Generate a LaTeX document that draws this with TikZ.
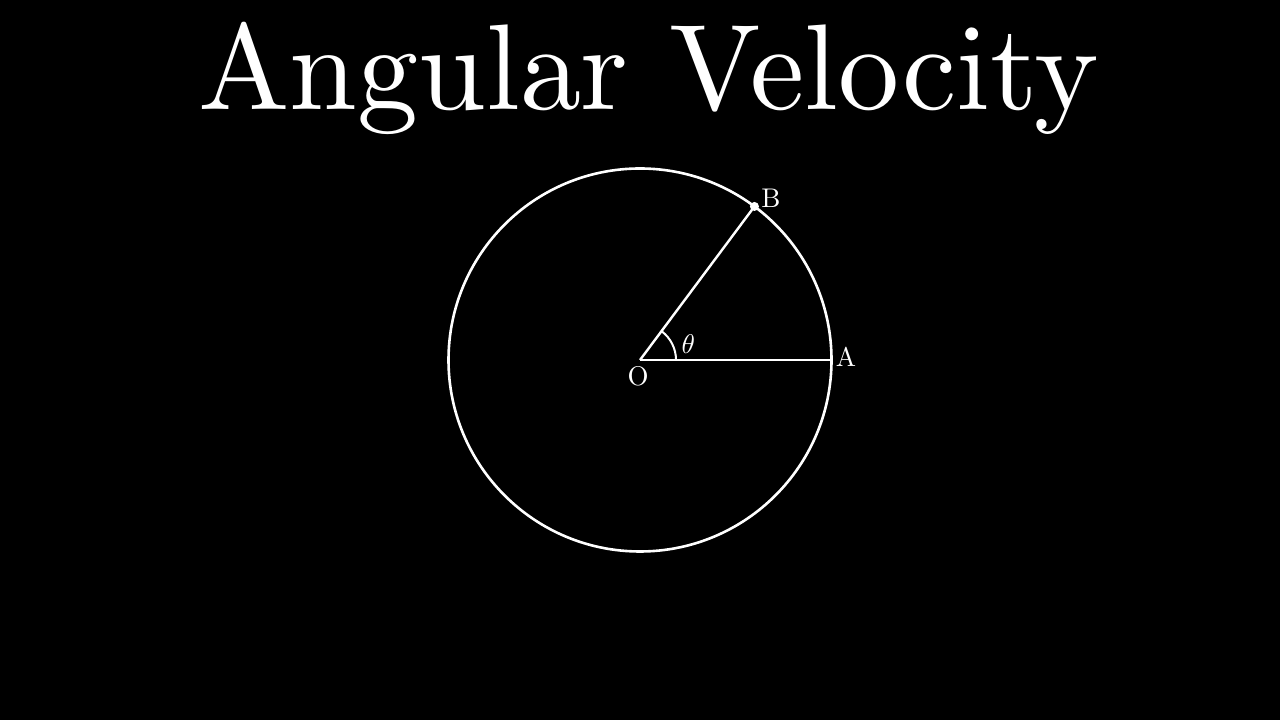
\documentclass[tikz,border=0pt]{standalone}
\usetikzlibrary{calc}
\font\titlefnt=cmr10 at 122pt
\font\lblfnt=cmr10 at 27pt
\font\thfnt=cmmi10 at 27pt
\begin{document}
\begin{tikzpicture}[x=1pt,y=1pt,
  lbl/.style={text=white,font=\lblfnt,inner sep=0pt},
  ln/.style={draw=white,line width=2.4pt}]
\fill[black] (0,0) rectangle (1280,720);
\useasboundingbox (0,0) rectangle (1280,720);
\node[text=white,anchor=base,inner sep=0pt,font=\titlefnt] (title) at (649,610) {Angular Velocity};
\coordinate (O) at (640,360);
\draw[ln,line width=2.6pt] (O) circle (191.5);
\coordinate (A) at (831.5,360);
\coordinate (B) at ($(O)+(53.3:191.5)$);
\draw[ln] (O) -- (A);
\draw[ln] (O) -- (B);
\draw[ln,line width=2pt] ($(O)+(36,0)$) arc (0:53.3:36);
\fill[white] (B) circle (4.5);
\node[lbl] (lB) at (771,522) {B};
\node[lbl] (lA) at (846,363) {A};
\node[lbl] (lO) at (638,344) {O};
\node[lbl] (lt) at (688,376) {\thfnt\char"12};
\end{tikzpicture}
\end{document}
